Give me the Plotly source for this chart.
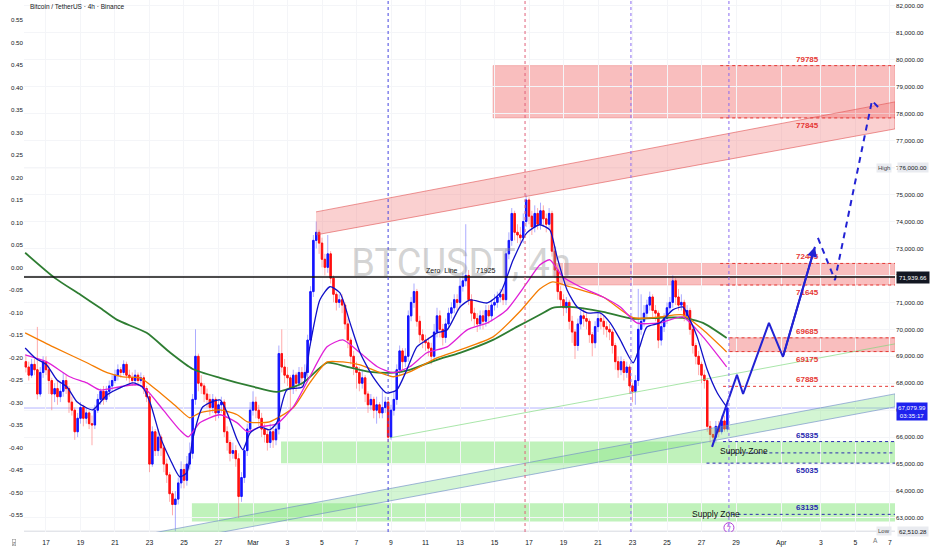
import pandas as pd
import plotly.graph_objects as go

# ---------------- DATA ----------------
candle_start = "2026-02-15 20:00"   # 4h candles
first_open = 68800
closes = [
    68600,
    68300, 68700, 68500, 67600, 68400, 68800,   # Feb16
    68500, 68100, 67600, 67800, 67500, 67700,   # Feb17
    68100, 67800, 67300, 67000, 66200, 66700,   # Feb18
    67100, 66700, 66900, 66500, 66450, 67000,   # Feb19
    67400, 67700, 67400, 67700, 67900, 68100,   # Feb20
    68300, 68500, 68400, 68700, 68300, 68200,   # Feb21
    68100, 68300, 68100, 68200, 67800, 67500,   # Feb22
    65000, 66200, 65500, 66000, 65600, 65000,   # Feb23
    64600, 63900, 63500, 63700, 64300, 64800,   # Feb24
    64400, 65000, 65400, 67400, 69000, 68000,   # Feb25
    67900, 67600, 67400, 67100, 67400, 66900,   # Feb26
    67200, 67300, 66200, 65800, 65400, 65500,   # Feb27
    65200, 63800, 64500, 65500, 66300, 67000,   # Feb28
    67300, 67000, 66700, 66300, 66100, 65800,   # Mar1
    66200, 65900, 66300, 69100, 68600, 68300,   # Mar2
    68200, 67800, 68300, 68000, 68400, 68200,   # Mar3
    68400, 69600, 71400, 73300, 73600, 73200,   # Mar4
    72600, 72300, 72800, 71900, 71300, 71000,   # Mar5
    71100, 70900, 70200, 69600, 69000, 68600,   # Mar6
    68400, 68000, 68200, 67600, 67200, 67400,   # Mar7
    67000, 67200, 66900, 67100, 67300, 66000,   # Mar8
    67000, 67400, 68500, 69200, 68800, 69000,   # Mar9
    70500, 71000, 71400, 70300, 69800, 69600,   # Mar10
    69500, 69300, 69000, 69900, 70500, 70000,   # Mar11
    69700, 70200, 70600, 70800, 71100, 71000,   # Mar12
    71600, 71800, 72000, 71100, 70600, 70400,   # Mar13
    70200, 70500, 70300, 70700, 70500, 70900,   # Mar14
    71000, 71200, 71300, 71100, 72800, 73300,   # Mar15
    74300, 73600, 73500, 73400, 74000, 74800,   # Mar16
    74200, 73800, 74300, 73900, 74400, 74100,   # Mar17
    73900, 74300, 72900, 72200, 71400, 71100,   # Mar18
    70800, 71000, 70300, 69900, 69400, 70200,   # Mar19
    70500, 70400, 70300, 69800, 69500, 70100,   # Mar20
    70400, 70300, 70100, 70000, 69900, 69400,   # Mar21
    68800, 68500, 68800, 68400, 68600, 67900,   # Mar22
    67700, 68100, 70000, 70300, 70600, 70900,   # Mar23
    71200, 70700, 70600, 69600, 70100, 70400,   # Mar24
    70800, 71000, 71800, 71200, 70900, 71000,   # Mar25
    70500, 70700, 70000, 69400, 69000, 68700,   # Mar26
    68300, 68100, 66400, 66100, 66000, 66400,   # Mar27
    66200, 66600, 66300, 67080,                 # Mar28
]
highs = [
    69000,
    68800, 68900, 68900, 70090, 68600, 69000,
    69000, 68700, 68200, 68000, 68100, 68000,
    68400, 68300, 67900, 67500, 67100, 66900,
    67300, 67200, 67100, 67000, 66800, 67200,
    67600, 67800, 67900, 67900, 68100, 68300,
    68500, 68700, 68600, 68850, 68800, 68500,
    68400, 68500, 68400, 68400, 68300, 67900,
    67600, 66400, 66300, 66300, 66100, 65700,
    65200, 64700, 64000, 64000, 64500, 65100,
    65000, 65300, 65800, 67600, 70000, 69100,
    68300, 68000, 67800, 67600, 67600, 67500,
    67400, 67500, 67400, 66400, 65900, 65800,
    65700, 65400, 64700, 65700, 66500, 67300,
    67700, 67500, 67200, 66900, 66500, 66300,
    66500, 66400, 66500, 69400, 70000, 68900,
    68600, 68300, 68500, 68400, 68600, 68600,
    68700, 69800, 71600, 73500, 74000, 73700,
    73400, 72800, 73500, 72900, 72000, 71400,
    71300, 71300, 71000, 70400, 69700, 69200,
    68800, 68600, 68500, 68300, 67700, 67600,
    67500, 67500, 67300, 67800, 67500, 67400,
    67200, 67700, 68700, 69400, 69300, 69300,
    70700, 71200, 71700, 71500, 70500, 70000,
    69800, 69700, 69500, 70200, 70800, 70700,
    70200, 70400, 70800, 71000, 71300, 71300,
    71900, 72100, 73900, 72200, 71300, 70800,
    70600, 70700, 70700, 70900, 70900, 71100,
    71300, 71400, 71500, 71500, 73000, 73600,
    74500, 74400, 73900, 73800, 74300, 75000,
    74900, 74400, 74600, 74500, 74700, 74600,
    74300, 74500, 74400, 73100, 72400, 71600,
    71300, 71200, 71100, 70500, 70000, 70400,
    70700, 70800, 70600, 70400, 69900, 70300,
    70600, 70600, 70500, 70300, 70200, 70000,
    69500, 69000, 69000, 68900, 68800, 68700,
    68000, 68300, 71500, 71300, 70900, 71100,
    71400, 71300, 70900, 70700, 70300, 70600,
    71000, 71200, 72000, 71900, 71500, 71300,
    71100, 70900, 70800, 70100, 69500, 69200,
    68800, 68500, 68200, 66600, 66300, 66600,
    66600, 66800, 66800, 67200,
]
lows = [
    68400,
    68100, 68200, 68300, 67400, 67500, 68200,
    68300, 67600, 67000, 67300, 67200, 67300,
    67500, 67600, 66900, 66800, 65900, 66000,
    66500, 66400, 66500, 66300, 65700, 66300,
    66900, 67200, 67200, 67300, 67500, 67700,
    68000, 68100, 68200, 68300, 68100, 67900,
    67900, 67900, 67900, 68000, 67600, 67300,
    64700, 64900, 65300, 65300, 65300, 64700,
    64300, 63600, 63100, 62510, 63500, 64100,
    64100, 64200, 64800, 65200, 67200, 67700,
    67600, 67300, 67100, 66800, 66900, 66600,
    66700, 66900, 66000, 65500, 65100, 65200,
    64900, 63000, 63600, 64300, 65300, 66100,
    66800, 66700, 66400, 66000, 65800, 65500,
    65600, 65600, 65700, 66100, 68400, 68000,
    67900, 67000, 67600, 67700, 67800, 67900,
    68000, 68200, 69400, 71200, 73000, 72800,
    72300, 72000, 72100, 71700, 71000, 70700,
    70800, 70600, 70000, 69300, 68700, 68300,
    67800, 67700, 67800, 67300, 66900, 67000,
    66700, 66500, 66700, 66700, 66900, 65800,
    65900, 66800, 67200, 68300, 68500, 68600,
    68800, 70300, 70800, 70100, 69500, 69300,
    69200, 69000, 68700, 68800, 69700, 69700,
    69400, 69500, 70000, 70400, 70600, 70700,
    70800, 71400, 71600, 70900, 70300, 70100,
    69900, 70000, 70000, 70100, 70200, 70300,
    70700, 70800, 71000, 70900, 70900, 72600,
    73100, 73300, 73200, 73100, 73200, 73800,
    73900, 73500, 73600, 73700, 73700, 73800,
    73600, 73700, 72700, 71900, 71100, 70800,
    70500, 70600, 70000, 69500, 68900, 69200,
    70000, 70100, 70000, 69500, 69000, 69300,
    69900, 70000, 69800, 69700, 69600, 69100,
    68500, 68200, 68300, 68100, 68200, 67600,
    67300, 67200, 67900, 69800, 70100, 70400,
    70700, 70400, 70300, 69300, 69400, 69900,
    70200, 70600, 70800, 70900, 70700, 70700,
    70300, 70300, 69800, 69100, 68700, 68300,
    68000, 67800, 66200, 65800, 65650, 65800,
    66000, 66100, 66200, 66200,
]

# moving averages
blue_t = ["2026-02-15 19:00","2026-02-16 09:00","2026-02-17 01:00","2026-02-17 15:00","2026-02-18 05:00","2026-02-18 19:00","2026-02-19 06:00","2026-02-19 17:00","2026-02-20 13:00","2026-02-21 07:00","2026-02-22 01:00","2026-02-22 14:00","2026-02-23 01:00","2026-02-23 15:00","2026-02-24 05:00","2026-02-24 18:00","2026-02-25 04:00","2026-02-25 12:00","2026-02-26 02:00","2026-02-27 02:00","2026-02-27 12:00","2026-02-28 02:00","2026-02-28 10:00","2026-02-28 20:00","2026-03-01 10:00","2026-03-01 23:00","2026-03-02 09:00","2026-03-02 23:00","2026-03-03 21:00","2026-03-04 07:00","2026-03-04 21:00","2026-03-05 11:00","2026-03-06 01:00","2026-03-06 15:00","2026-03-07 05:00","2026-03-07 23:00","2026-03-08 18:00","2026-03-09 08:00","2026-03-09 22:00","2026-03-10 12:00","2026-03-11 02:00","2026-03-11 16:00","2026-03-12 06:00","2026-03-13 00:00","2026-03-13 14:00","2026-03-14 14:00","2026-03-15 08:00","2026-03-16 02:00","2026-03-16 21:00","2026-03-17 15:00","2026-03-18 05:00","2026-03-18 15:00","2026-03-19 05:00","2026-03-19 19:00","2026-03-20 09:00","2026-03-21 03:00","2026-03-21 17:00","2026-03-22 07:00","2026-03-23 01:00","2026-03-23 10:00","2026-03-23 20:00","2026-03-24 14:00","2026-03-25 08:00","2026-03-25 22:00","2026-03-26 08:00","2026-03-26 18:00","2026-03-27 08:00","2026-03-27 22:00","2026-03-28 11:00"]
blue_v = [69310,68940,68680,68130,67870,67310,67120,67010,67570,67830,68010,67870,67270,66010,65160,64530,64680,65900,67120,67380,66900,65900,65530,66160,66380,66270,66530,67750,67870,69350,71090,71580,71350,70240,69130,68240,67640,67750,68500,69350,69610,69870,69980,70830,71090,70980,71350,72580,73580,73880,73690,72690,71460,70830,70610,70610,70240,69610,68760,69350,70090,70240,70720,70830,70350,69720,68500,67640,67120]

magenta_t = ["2026-02-15 19:00","2026-02-17 01:00","2026-02-18 09:00","2026-02-19 09:00","2026-02-20 03:00","2026-02-21 07:00","2026-02-22 07:00","2026-02-22 20:00","2026-02-23 19:00","2026-02-24 18:00","2026-02-25 06:00","2026-02-25 22:00","2026-02-27 02:00","2026-02-28 02:00","2026-02-28 16:00","2026-03-01 10:00","2026-03-02 09:00","2026-03-03 08:00","2026-03-04 07:00","2026-03-05 07:00","2026-03-06 05:00","2026-03-07 05:00","2026-03-08 05:00","2026-03-09 03:00","2026-03-10 02:00","2026-03-11 02:00","2026-03-12 06:00","2026-03-13 10:00","2026-03-14 14:00","2026-03-15 17:00","2026-03-16 21:00","2026-03-17 15:00","2026-03-18 05:00","2026-03-18 23:00","2026-03-19 23:00","2026-03-21 07:00","2026-03-22 07:00","2026-03-23 06:00","2026-03-24 14:00","2026-03-25 22:00","2026-03-27 02:00","2026-03-28 11:00"]
magenta_v = [69050,68790,68240,68010,67750,67870,67940,67750,67010,66270,66010,66530,66830,66530,66200,66380,66490,67120,68240,69350,69610,69130,68610,68390,68610,69130,69350,69980,70240,70720,71720,72390,72580,71950,71580,71200,70830,70240,70240,70460,69720,68610]

orange_t = ["2026-02-15 19:00","2026-02-17 10:00","2026-02-19 09:00","2026-02-20 13:00","2026-02-21 11:00","2026-02-22 11:00","2026-02-23 10:00","2026-02-24 14:00","2026-02-25 08:00","2026-02-25 22:00","2026-02-27 02:00","2026-02-28 02:00","2026-02-28 16:00","2026-03-01 23:00","2026-03-03 08:00","2026-03-04 07:00","2026-03-05 07:00","2026-03-06 05:00","2026-03-07 05:00","2026-03-09 03:00","2026-03-10 02:00","2026-03-11 16:00","2026-03-13 00:00","2026-03-14 22:00","2026-03-16 11:00","2026-03-17 15:00","2026-03-18 09:00","2026-03-19 09:00","2026-03-21 07:00","2026-03-23 01:00","2026-03-24 14:00","2026-03-25 22:00","2026-03-27 02:00","2026-03-28 11:00"]
orange_v = [69870,69350,68760,68390,68240,68200,67750,67120,66720,66900,67010,66830,66570,66570,67090,68010,68790,68790,68680,68240,68420,68940,69240,69720,70650,71500,71760,71580,71200,70430,70460,70540,69980,69160]

green_t = ["2026-02-15 19:00","2026-02-17 12:00","2026-02-19 00:00","2026-02-20 03:00","2026-02-21 03:00","2026-02-22 20:00","2026-02-24 05:00","2026-02-25 12:00","2026-02-27 02:00","2026-03-01 00:00","2026-03-02 09:00","2026-03-03 21:00","2026-03-05 07:00","2026-03-06 11:00","2026-03-07 19:00","2026-03-09 03:00","2026-03-10 02:00","2026-03-11 16:00","2026-03-13 00:00","2026-03-14 22:00","2026-03-16 07:00","2026-03-17 15:00","2026-03-18 09:00","2026-03-19 09:00","2026-03-21 07:00","2026-03-23 01:00","2026-03-24 14:00","2026-03-25 22:00","2026-03-27 02:00","2026-03-28 11:00"]
green_v = [72840,71910,71280,70800,70350,69870,69130,68530,68200,67870,67680,68010,68760,68610,68420,68390,68500,68870,69130,69610,70090,70540,70800,70830,70650,70390,70430,70430,70240,69680]

# projected path
proj_solid_t = ["2026-03-27 14:40","2026-03-28 10:00","2026-03-29 01:20","2026-03-29 09:50","2026-03-30 21:50","2026-03-31 17:20","2026-04-02 13:50"]
proj_solid_v = [65640, 67090, 68310, 67600, 70240, 68980, 73060]
proj_dash_t = ["2026-04-02 18:00","2026-04-03 17:40","2026-04-05 21:10","2026-04-06 08:20"]
proj_dash_v = [73390, 71830, 78480, 78180]

# zones: (top, bottom, start)
red_zones = [(79785, 77845, "2026-03-14 22:00"), (72445, 71645, "2026-03-18 14:00"), (69685, 69175, "2026-03-28 15:00")]
green_zones = [(65835, 65035, "2026-03-02 15:00"), (63550, 62870, "2026-02-25 11:00")]

# level lines: (price, start, colour-key, label, label side)
levels = [
    (79785, "2026-03-28 02:00", "r", "79785", "above"),
    (77845, "2026-03-28 02:00", "r", "77845", "below"),
    (72445, "2026-03-28 02:00", "r", "72445", "above"),
    (71645, "2026-03-28 02:00", "r", "71645", "below"),
    (69685, "2026-03-28 15:00", "r", "69685", "above"),
    (69175, "2026-03-28 15:00", "r", "69175", "below"),
    (67885, "2026-03-28 06:00", "r", "67885", "above"),
    (65835, "2026-03-28 06:00", "b", "65835", "above"),
    (65415, "2026-03-28 12:00", "b", "", "above"),
    (65035, "2026-03-27 07:00", "b", "65035", "below"),
    (63135, "2026-03-28 18:00", "b", "63135", "above"),
]
label_time = "2026-04-02 04:00"

# channels
red_channel_t = ["2026-03-04 15:40", "2026-04-07 05:13"]
red_channel_top = [74358, 78439]
red_channel_bot = [73504, 77437]
green_channel_t = ["2026-02-22 15:00", "2026-04-07 05:13"]
green_channel_top = [62374, 67605]
green_channel_bot = [61929, 67123]
thin_line_t = ["2026-03-08 22:30", "2026-04-07 05:13"]
thin_line_v = [65973, 69460]

vlines = [("2026-03-08 20:00", "#4545e0"), ("2026-03-16 18:30", "#e0607a"),
          ("2026-03-22 21:50", "#8a6af0"), ("2026-03-28 14:10", "#8a6af0")]

zero_line = 71939.66
high_line = 76000
last_price = 67079.99
low_line = 62510.28

x_range = ["2026-02-15 17:24", "2026-04-07 05:13"]
price_range = [62480, 82220]
osc_range = [-0.5878, 0.5944]
price_ticks = list(range(63000, 82001, 1000))
osc_ticks = [0.55, 0.50, 0.45, 0.40, 0.35, 0.30, 0.25, 0.20, 0.15, 0.10, 0.05, 0.0,
             -0.05, -0.10, -0.15, -0.20, -0.25, -0.30, -0.35, -0.40, -0.45, -0.50, -0.55]
osc_text = ["0.55", "0.50", "0.45", "0.40", "0.35", "0.30", "0.25", "0.20", "0.15", "0.10", "0.05", "0.00",
            "-0.05", "-0.10", "-0.15", "-0.20", "-0.25", "-0.30", "-0.35", "-0.40", "-0.45", "-0.50", "-0.55"]
x_tick_dates = ["2026-02-17", "2026-02-19", "2026-02-21", "2026-02-23", "2026-02-25", "2026-02-27",
                "2026-03-01", "2026-03-03", "2026-03-05", "2026-03-07", "2026-03-09", "2026-03-11",
                "2026-03-13", "2026-03-15", "2026-03-17", "2026-03-19", "2026-03-21", "2026-03-23",
                "2026-03-25", "2026-03-27", "2026-03-29", "2026-03-31 15:00", "2026-04-02 22:00",
                "2026-04-04 22:00", "2026-04-06 22:00"]
x_tick_text = ["17", "19", "21", "23", "25", "27", "Mar", "3", "5", "7", "9", "11", "13", "15", "17",
               "19", "21", "23", "25", "27", "29", "Apr", "3", "5", "7"]

watermark_t, watermark_p = "2026-03-13 01:30", 72330

# ---------------- FIGURE ----------------
FONT = "Liberation Sans, Arial, sans-serif"
UP, DOWN = "#1414ff", "#ff1010"
t = pd.date_range(candle_start, periods=len(closes), freq="4h")
opens = [first_open] + closes[:-1]
body_hi = [max(o, c) for o, c in zip(opens, closes)]
body_lo = [min(o, c) for o, c in zip(opens, closes)]

fig = go.Figure()

# watermark (beneath everything drawn as traces)
fig.add_trace(go.Scatter(x=[watermark_t], y=[watermark_p], mode="text", text=["BTCUSDT, 4h"],
                         textfont=dict(size=38, color="rgba(150,150,150,0.42)",
                                       family="Liberation Sans Narrow, Roboto, Liberation Sans, sans-serif"),
                         hoverinfo="skip", showlegend=False))

# channels
fig.add_trace(go.Scatter(x=red_channel_t + red_channel_t[::-1], y=red_channel_top + red_channel_bot[::-1],
                         fill="toself", fillcolor="rgba(242,120,120,0.35)",
                         line=dict(color="rgba(225,80,80,0.75)", width=0.8), mode="lines",
                         hoverinfo="skip", showlegend=False))
fig.add_trace(go.Scatter(x=green_channel_t + green_channel_t[::-1], y=green_channel_top + green_channel_bot[::-1],
                         fill="toself", fillcolor="rgba(130,225,130,0.35)",
                         line=dict(color="rgba(110,140,200,0.8)", width=0.8), mode="lines",
                         hoverinfo="skip", showlegend=False))
fig.add_trace(go.Scatter(x=thin_line_t, y=thin_line_v, mode="lines",
                         line=dict(color="rgba(120,215,120,0.8)", width=0.8),
                         hoverinfo="skip", showlegend=False))

# candles: light wicks, then solid bodies
fig.add_trace(go.Candlestick(x=t, open=opens, high=highs, low=lows, close=closes,
                             increasing=dict(line=dict(color="rgba(90,90,255,0.5)", width=1),
                                             fillcolor="rgba(90,90,255,0.5)"),
                             decreasing=dict(line=dict(color="rgba(255,90,90,0.5)", width=1),
                                             fillcolor="rgba(255,90,90,0.5)"),
                             hoverinfo="skip", showlegend=False))
fig.add_trace(go.Candlestick(x=t, open=opens, high=body_hi, low=body_lo, close=closes,
                             increasing=dict(line=dict(color=UP, width=1), fillcolor=UP),
                             decreasing=dict(line=dict(color=DOWN, width=1), fillcolor=DOWN),
                             hoverinfo="skip", showlegend=False))

# moving averages
for tt, vv, col, w in [(green_t, green_v, "#2e7d32", 1.8), (orange_t, orange_v, "#f57c00", 1.3),
                       (magenta_t, magenta_v, "#e020d8", 1.3), (blue_t, blue_v, "#1010c8", 1.3)]:
    fig.add_trace(go.Scatter(x=tt, y=vv, mode="lines", line=dict(color=col, width=w, shape="spline", smoothing=0.6),
                             hoverinfo="skip", showlegend=False))

# projection path
PROJ = "#2222d4"
fig.add_trace(go.Scatter(x=proj_solid_t, y=proj_solid_v, mode="lines", line=dict(color=PROJ, width=2),
                         hoverinfo="skip", showlegend=False))
fig.add_trace(go.Scatter(x=proj_dash_t, y=proj_dash_v, mode="lines",
                         line=dict(color=PROJ, width=2, dash="6px,5px"), hoverinfo="skip", showlegend=False))

# lightning marker
fig.add_trace(go.Scatter(x=["2026-03-28 14:10"], y=[62640], mode="markers+text", text=["ϟ"],
                         textposition="middle center", textfont=dict(size=7, color="#b040d8"),
                         marker=dict(symbol="circle-open", size=10, color="#b040d8", line=dict(width=1)),
                         hoverinfo="skip", showlegend=False))

# dummy trace to show oscillator axis
fig.add_trace(go.Scatter(x=[x_range[0]], y=[0], yaxis="y2", mode="markers", marker=dict(opacity=0),
                         hoverinfo="skip", showlegend=False))

shapes = []
for top, bot, start in red_zones:
    shapes.append(dict(type="rect", xref="x", yref="y", x0=start, x1=x_range[1], y0=bot, y1=top,
                       fillcolor="rgba(242,110,110,0.45)", line=dict(color="rgba(230,110,110,0.6)", width=0.6),
                       layer="below"))
for top, bot, start in green_zones:
    shapes.append(dict(type="rect", xref="x", yref="y", x0=start, x1=x_range[1], y0=bot, y1=top,
                       fillcolor="rgba(130,230,120,0.5)", line=dict(width=0), layer="below"))
# horizontal reference lines
shapes.append(dict(type="line", xref="paper", yref="y", x0=0, x1=1, y0=high_line, y1=high_line,
                   line=dict(color="#d6d9e0", width=1), layer="below"))
shapes.append(dict(type="line", xref="paper", yref="y", x0=0, x1=1, y0=low_line, y1=low_line,
                   line=dict(color="#d6d9e0", width=1), layer="below"))
shapes.append(dict(type="line", xref="paper", yref="y", x0=0, x1=1, y0=last_price, y1=last_price,
                   line=dict(color="rgba(120,120,255,0.7)", width=0.8), layer="below"))
shapes.append(dict(type="line", xref="paper", yref="y", x0=0, x1=1, y0=zero_line, y1=zero_line,
                   line=dict(color="#111111", width=1.4), layer="above"))
for x, col in vlines:
    shapes.append(dict(type="line", xref="x", yref="paper", x0=x, x1=x, y0=0, y1=1,
                       line=dict(color=col, width=1, dash="dot"), layer="above"))

annotations = []
for price, start, key, lab, side in levels:
    col = "#e53935" if key == "r" else "#2a2ab0"
    shapes.append(dict(type="line", xref="x", yref="y", x0=start, x1=x_range[1], y0=price, y1=price,
                       line=dict(color=col, width=1, dash="dot"), layer="above"))
    if lab:
        annotations.append(dict(x=label_time, y=price, xref="x", yref="y", text=f"<b>{lab}</b>",
                                showarrow=False, xanchor="center",
                                yanchor="bottom" if side == "above" else "top",
                                yshift=0 if side == "above" else -1,
                                font=dict(size=8, color=col, family=FONT)))

annotations += [
    dict(x=0.005, y=0.987, xref="paper", yref="paper", text="Bitcoin / TetherUS · 4h · Binance",
         showarrow=False, xanchor="left", yanchor="middle", font=dict(size=6.5, color="#131722", family=FONT)),
    dict(x="2026-03-27 23:00", y=65415, xref="x", yref="y", text="Supply Zone", showarrow=False,
         xanchor="left", yanchor="middle", yshift=2, font=dict(size=8.5, color="#111", family=FONT)),
    dict(x="2026-03-26 08:00", y=63135, xref="x", yref="y", text="Supply Zone", showarrow=False,
         xanchor="left", yanchor="middle", font=dict(size=8.5, color="#111", family=FONT)),
    dict(x="2026-03-10 22:00", y=zero_line, xref="x", yref="y", text="Zero  Line", showarrow=False,
         xanchor="left", yanchor="bottom", yshift=1, font=dict(size=7, color="#111", family=FONT)),
    dict(x="2026-03-13 19:30", y=zero_line, xref="x", yref="y", text="71925", showarrow=False,
         xanchor="left", yanchor="bottom", yshift=1, font=dict(size=7, color="#111", family=FONT)),
    # arrowhead on projection
    dict(x=proj_solid_t[-1], y=proj_solid_v[-1], ax=proj_solid_t[-2], ay=proj_solid_v[-2],
         xref="x", yref="y", axref="x", ayref="y", text="", showarrow=True, arrowhead=2,
         arrowsize=1, arrowwidth=2, arrowcolor=PROJ),
    # right side badges
    dict(x=1, y=high_line, xref="paper", yref="y", text="High", showarrow=False, xanchor="right",
         xshift=-3, bgcolor="#e9ebf0", borderpad=1, font=dict(size=6, color="#444", family=FONT)),
    dict(x=1, y=high_line, xref="paper", yref="y", text="76,000.00", showarrow=False, xanchor="left",
         xshift=2, bgcolor="#e9ebf0", borderpad=1, font=dict(size=6.2, color="#131722", family=FONT)),
    dict(x=1, y=zero_line, xref="paper", yref="y", text="71,939.66", showarrow=False, xanchor="left",
         xshift=1, bgcolor="#131722", borderpad=2, font=dict(size=6.2, color="white", family=FONT)),
    dict(x=1, y=last_price, xref="paper", yref="y", text="67,079.99<br>03:35:17", showarrow=False,
         xanchor="left", yanchor="top", yshift=6, xshift=1, bgcolor="#1e22ee", borderpad=1,
         font=dict(size=6.2, color="white", family=FONT)),
    dict(x=1, y=low_line, xref="paper", yref="y", text="Low", showarrow=False, xanchor="right",
         xshift=-3, bgcolor="#e9ebf0", borderpad=1, font=dict(size=6, color="#444", family=FONT)),
    dict(x=1, y=low_line, xref="paper", yref="y", text="62,510.28", showarrow=False, xanchor="left",
         xshift=2, bgcolor="#e9ebf0", borderpad=1, font=dict(size=6.2, color="#131722", family=FONT)),
    dict(x=0.983, y=-0.026, xref="paper", yref="paper", text="A", showarrow=False,
         font=dict(size=6.5, color="#777", family=FONT)),
    dict(x=-0.014, y=-0.026, xref="paper", yref="paper", text="z", showarrow=False, bordercolor="#999",
         borderwidth=0.6, borderpad=0, font=dict(size=6, color="#777", family=FONT)),
]

fig.update_layout(
    width=932, height=550, margin=dict(l=24, r=37, t=0, b=18, autoexpand=False),
    plot_bgcolor="white", paper_bgcolor="white", showlegend=False,
    font=dict(family=FONT, size=6.2, color="#131722"),
    xaxis=dict(type="date", range=x_range, tickvals=x_tick_dates, ticktext=x_tick_text, automargin=False,
               showgrid=True, gridcolor="#f4f5f8", zeroline=False, showline=False, ticks="",
               ticklabelstandoff=5,
               rangeslider=dict(visible=False), tickfont=dict(size=6.8, color="#131722")),
    yaxis=dict(side="right", range=price_range, tickvals=price_ticks, automargin=False,
               ticktext=[f"{v:,.2f}" for v in price_ticks], showgrid=True, gridcolor="#f4f5f8",
               zeroline=False, showline=False, ticks="", tickfont=dict(size=6.2, color="#131722")),
    yaxis2=dict(overlaying="y", side="left", range=osc_range, tickvals=osc_ticks, ticktext=osc_text,
                automargin=False, showgrid=False, zeroline=False, showline=False, ticks="",
                tickfont=dict(size=6.2, color="#131722")),
    shapes=shapes, annotations=annotations,
)

# remove the default page margin so the figure sits at the window's top-left corner
fig.write_html("out.html", config={"displayModeBar": False},
               post_script="document.body.style.margin='0';")
